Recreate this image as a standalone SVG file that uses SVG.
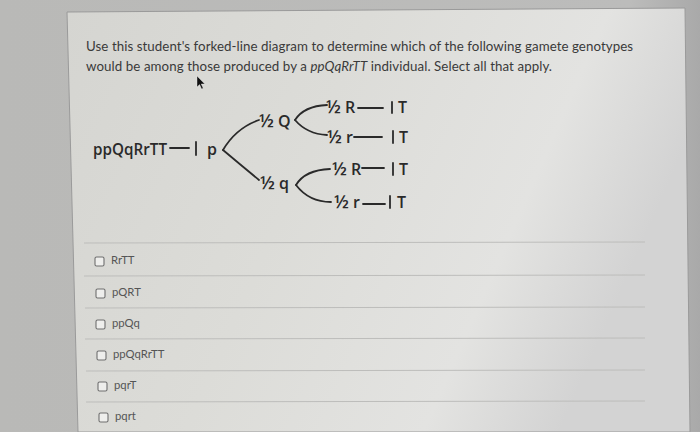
<svg xmlns="http://www.w3.org/2000/svg" width="700" height="432" viewBox="0 0 700 432">
<defs>
<linearGradient id="panel" x1="0" y1="0" x2="1" y2="0.3">
<stop offset="0" stop-color="#d5d5d1"/>
<stop offset="0.45" stop-color="#dcdcd8"/>
<stop offset="0.8" stop-color="#e3e3e1"/>
<stop offset="1" stop-color="#d3d3d3"/>
</linearGradient>
<linearGradient id="outer" x1="0" y1="0" x2="1" y2="0">
<stop offset="0" stop-color="#b9b9b7"/>
<stop offset="0.9" stop-color="#bcbcbb"/>
<stop offset="1" stop-color="#a9a9a9"/>
</linearGradient>
<style>
.q{font-family:Lato,"Liberation Sans",sans-serif;font-size:13.3px;fill:#3a3a3a}
.hw{font-family:"Open Sans","DejaVu Sans",sans-serif;font-size:16px;font-weight:600;fill:#2a2a2a}
.h{font-size:18px}
.opt{font-family:Lato,"Liberation Sans",sans-serif;font-size:11.3px;fill:#555}
.box{fill:#eeeeec;stroke:#6f6f6f;stroke-width:1.1}
.sep{stroke:#bdbdbb;stroke-width:1}
.ink{fill:none;stroke:#2a2a2a;stroke-width:1.8;stroke-linecap:round}
</style>
</defs>
<rect width="700" height="432" fill="url(#outer)"/>
<polygon points="67,12 685,8 690,432 78,432" fill="url(#panel)" stroke="#9a9a9a" stroke-width="1"/>
<g id="question">
<text class="q" x="86" y="51" textLength="547" lengthAdjust="spacing">Use this student's forked-line diagram to determine which of the following gamete genotypes</text>
<text class="q" x="86" y="71" textLength="466" lengthAdjust="spacing">would be among those produced by a <tspan font-style="italic">ppQqRrTT</tspan> individual. Select all that apply.</text>
</g>
<polygon id="cursor" points="197,76 197,87 199.6,84.6 201.6,89 203.2,88.3 201.2,84 204.8,84" fill="#111" stroke="#eee" stroke-width="0.4"/>
<g id="connectors">
<line class="ink" x1="170" y1="148" x2="189" y2="148"/>
<line class="ink" x1="196" y1="142" x2="196" y2="155"/>
<path class="ink" d="M259,120 Q236,128 223,150"/>
<path class="ink" d="M223,150 Q242,166 259,180"/>
<path class="ink" d="M327,105 Q304,106 295,120"/>
<path class="ink" d="M295,120 Q307,134 327,135"/>
<path class="ink" d="M330,169 Q305,170 296,185"/>
<path class="ink" d="M296,185 Q309,202 331,202"/>
<line class="ink" x1="358" y1="108" x2="383" y2="108"/>
<line class="ink" x1="354" y1="137" x2="382" y2="137"/>
<line class="ink" x1="362" y1="168" x2="384" y2="168"/>
<line class="ink" x1="363" y1="204" x2="385" y2="204"/>
<line class="ink" x1="392" y1="102" x2="392" y2="113"/>
<line class="ink" x1="393" y1="131" x2="393" y2="143"/>
<line class="ink" x1="393" y1="163" x2="393" y2="175"/>
<line class="ink" x1="390" y1="196" x2="390" y2="208"/>
</g>
<g id="node-parent"><text class="hw" x="93" y="155" textLength="74" lengthAdjust="spacingAndGlyphs">ppQqRrTT</text></g>
<g id="node-p"><text class="hw" x="207" y="155">p</text></g>
<g id="node-Q"><text class="hw" x="259" y="127"><tspan class="h">½</tspan> Q</text></g>
<g id="node-q"><text class="hw" x="260" y="189"><tspan class="h">½</tspan> q</text></g>
<g id="node-QR"><text class="hw" x="326" y="113"><tspan class="h">½</tspan> R</text></g>
<g id="node-Qr"><text class="hw" x="327" y="143"><tspan class="h">½</tspan> r</text></g>
<g id="node-qR"><text class="hw" x="332" y="175"><tspan class="h">½</tspan> R</text></g>
<g id="node-qr"><text class="hw" x="334" y="208"><tspan class="h">½</tspan> r</text></g>
<g id="node-T1"><text class="hw" x="398" y="113">T</text></g>
<g id="node-T2"><text class="hw" x="399" y="143">T</text></g>
<g id="node-T3"><text class="hw" x="399" y="175">T</text></g>
<g id="node-T4"><text class="hw" x="397" y="208">T</text></g>
<g id="options">
<line class="sep" x1="84" y1="243" x2="645" y2="242"/>
<line class="sep" x1="84" y1="276" x2="645" y2="275"/>
<line class="sep" x1="85" y1="308" x2="645" y2="307"/>
<line class="sep" x1="85" y1="339" x2="645" y2="338"/>
<line class="sep" x1="86" y1="371" x2="645" y2="370"/>
<line class="sep" x1="86" y1="402" x2="645" y2="401"/>
<rect class="box" x="95" y="257" width="9" height="9" rx="1.5"/>
<text class="opt" x="111" y="264">RrTT</text>
<rect class="box" x="96" y="289" width="9" height="9" rx="1.5"/>
<text class="opt" x="112" y="296">pQRT</text>
<rect class="box" x="96" y="320" width="9" height="9" rx="1.5"/>
<text class="opt" x="112" y="327">ppQq</text>
<rect class="box" x="97" y="351" width="9" height="9" rx="1.5"/>
<text class="opt" x="113" y="358">ppQqRrTT</text>
<rect class="box" x="98" y="382" width="9" height="9" rx="1.5"/>
<text class="opt" x="114" y="389">pqrT</text>
<rect class="box" x="99" y="413" width="9" height="9" rx="1.5"/>
<text class="opt" x="115" y="420">pqrt</text>
</g>
</svg>
